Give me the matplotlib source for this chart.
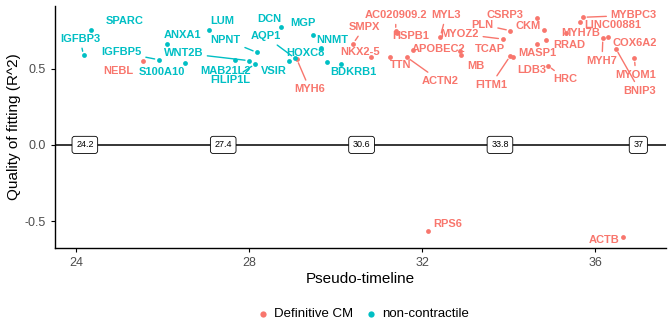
import numpy as np
import matplotlib
matplotlib.use("Agg")
import matplotlib.pyplot as plt

plt.rcParams['font.family'] = ['Liberation Sans', 'DejaVu Sans']

# genes, group, pseudo-time position and fit quality
genes = ['IGFBP3', 'SPARC', 'IGFBP5', 'S100A10', 'ANXA1', 'LUM', 'MAB21L2', 'WNT2B',
         'NPNT', 'FILIP1L', 'DCN', 'MGP', 'VSIR', 'AQP1', 'NNMT', 'HOXC8', 'BDKRB1',
         'NEBL', 'MYH6', 'SMPX', 'NKX2-5', 'AC020909.2', 'HSPB1', 'MYL3', 'TTN', 'ACTN2',
         'APOBEC2', 'TCAP', 'MB', 'MYOZ2', 'PLN', 'CSRP3', 'CKM', 'RRAD', 'MASP1', 'FITM1',
         'LDB3', 'HRC', 'MYBPC3', 'LINC00881', 'MYH7B', 'MYH7', 'COX6A2', 'BNIP3', 'MYOM1',
         'RPS6', 'ACTB']
groups = ['non-contractile'] * 17 + ['Definitive CM'] * 30
pseudotime = [24.17, 24.34, 25.91, 26.51, 26.10, 27.06, 27.68, 28.00,
              28.18, 28.14, 28.73, 29.48, 28.92, 29.06, 29.65, 29.79, 30.12,
              25.55, 29.10, 30.40, 30.82, 31.39, 31.43, 32.42, 31.26, 31.64,
              31.79, 32.87, 32.91, 33.86, 34.04, 34.65, 34.83, 34.86, 34.65, 34.04,
              34.11, 34.91, 35.72, 35.64, 35.33, 36.18, 36.31, 36.48, 36.91,
              32.14, 36.64]
r2 = [0.588, 0.757, 0.559, 0.541, 0.663, 0.752, 0.555, 0.553,
      0.607, 0.531, 0.772, 0.724, 0.548, 0.569, 0.638, 0.544, 0.533,
      0.548, 0.564, 0.663, 0.577, 0.745, 0.737, 0.709, 0.577, 0.577,
      0.625, 0.614, 0.592, 0.695, 0.750, 0.834, 0.757, 0.691, 0.664, 0.585,
      0.574, 0.520, 0.838, 0.807, 0.735, 0.702, 0.706, 0.632, 0.570,
      -0.566, -0.605]

# repelled label positions (as placed in the original)
label_x = [24.09, 25.13, 25.05, 25.99, 26.45, 27.38, 27.46, 26.48,
           27.46, 27.56, 28.46, 29.24, 28.57, 28.38, 29.93, 29.30, 30.41,
           24.97, 29.40, 30.66, 30.57, 31.39, 31.74, 32.55, 31.51, 32.41,
           32.37, 33.56, 33.25, 32.87, 33.40, 33.92, 34.46, 35.40, 34.66, 33.59,
           34.53, 35.32, 36.89, 36.40, 35.66, 36.16, 36.91, 37.03, 36.94,
           32.60, 36.21]
label_y = [0.695, 0.816, 0.607, 0.476, 0.724, 0.811, 0.482, 0.603,
           0.691, 0.423, 0.829, 0.801, 0.482, 0.712, 0.691, 0.603, 0.476,
           0.487, 0.366, 0.772, 0.607, 0.851, 0.712, 0.851, 0.526, 0.421,
           0.632, 0.632, 0.520, 0.730, 0.789, 0.851, 0.783, 0.655, 0.606, 0.395,
           0.493, 0.432, 0.851, 0.789, 0.735, 0.553, 0.669, 0.357, 0.461,
           -0.520, -0.625]
with_segment = {'IGFBP3', 'IGFBP5', 'WNT2B', 'NPNT', 'FILIP1L', 'AQP1', 'MYH6', 'SMPX',
                'AC020909.2', 'MYL3', 'MYOZ2', 'PLN', 'ACTN2', 'FITM1', 'HRC', 'MYBPC3',
                'MYH7', 'MYOM1', 'BNIP3'}

# time-point markers on the zero line
timepoints = [24.2, 27.4, 30.6, 33.8, 37]

colors = {'Definitive CM': '#F8766D', 'non-contractile': '#00BFC4'}

fig = plt.figure(figsize=(6.72, 3.36), dpi=100)
ax = fig.add_axes([55 / 672, 1 - 248 / 336, 611 / 672, 242 / 336])

ax.axhline(0, color='black', linewidth=1.1, zorder=1)

for g in ['Definitive CM', 'non-contractile']:
    xs = [x for x, gg in zip(pseudotime, groups) if gg == g]
    ys = [y for y, gg in zip(r2, groups) if gg == g]
    ax.scatter(xs, ys, s=12, color=colors[g], label=g, zorder=3, linewidths=0)

for name, g, x, y, lx, ly in zip(genes, groups, pseudotime, r2, label_x, label_y):
    c = colors[g]
    if name in with_segment:
        ax.annotate(name, xy=(x, y), xytext=(lx, ly), color=c, fontsize=8,
                    fontweight='bold', ha='center', va='center', zorder=4,
                    arrowprops=dict(arrowstyle='-', color=c, lw=1.0,
                                    shrinkA=1, shrinkB=3))
    else:
        ax.text(lx, ly, name, color=c, fontsize=8, fontweight='bold',
                ha='center', va='center', zorder=4)

for t in timepoints:
    ax.text(t, 0, f'{t:g}', fontsize=6.5, ha='center', va='center', zorder=5,
            bbox=dict(boxstyle='round,pad=0.45,rounding_size=0.3', fc='white',
                      ec='black', lw=0.6))

ax.set_xlim(23.51, 37.64)
ax.set_ylim(-0.677, 0.912)
ax.set_xticks([24, 28, 32, 36])
ax.set_yticks([-0.5, 0.0, 0.5])
ax.set_yticklabels(['-0.5', '0.0', '0.5'])
ax.tick_params(colors='#4D4D4D', labelsize=9, length=3, width=0.8)
ax.tick_params(axis='both', color='black')
for s in ['top', 'right']:
    ax.spines[s].set_visible(False)
for s in ['left', 'bottom']:
    ax.spines[s].set_linewidth(1.0)

ax.set_xlabel('Pseudo-timeline', fontsize=11, labelpad=2)
ax.set_ylabel('Quality of fitting (R^2)', fontsize=11, labelpad=3)

leg = fig.legend(loc='center', bbox_to_anchor=(362 / 672, 1 - 314 / 336), ncol=2,
                 frameon=False, fontsize=9.5, handletextpad=0.2, columnspacing=0.8,
                 markerscale=1.3, handlelength=1.2)

fig.savefig('out.png', dpi=100)
